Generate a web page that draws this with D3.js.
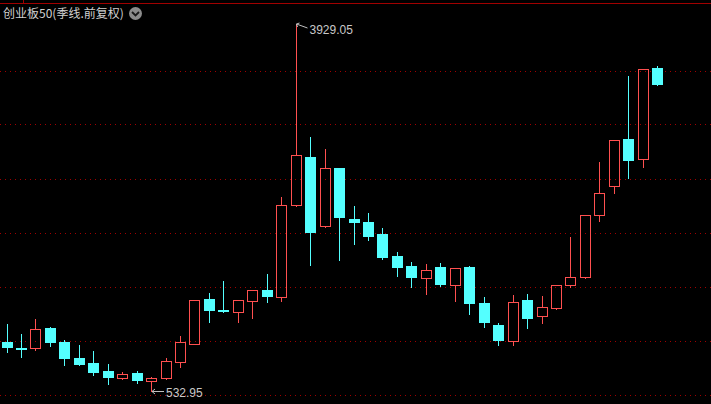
<!DOCTYPE html>
<html>
<head>
<meta charset="utf-8">
<script src="https://cdn.jsdelivr.net/npm/d3@7"></script>
<style>
  html, body { margin: 0; padding: 0; background: #000; }
  svg { display: block; }
</style>
</head>
<body>
<svg id="chart"></svg>
<script>
var width = 711,
    height = 404;

// quarterly candles, 2010Q2 .. 2021Q3
var quarters = ["2010Q2","2010Q3","2010Q4","2011Q1","2011Q2","2011Q3","2011Q4","2012Q1","2012Q2","2012Q3",
    "2012Q4","2013Q1","2013Q2","2013Q3","2013Q4","2014Q1","2014Q2","2014Q3","2014Q4","2015Q1",
    "2015Q2","2015Q3","2015Q4","2016Q1","2016Q2","2016Q3","2016Q4","2017Q1","2017Q2","2017Q3",
    "2017Q4","2018Q1","2018Q2","2018Q3","2018Q4","2019Q1","2019Q2","2019Q3","2019Q4","2020Q1",
    "2020Q2","2020Q3","2020Q4","2021Q1","2021Q2","2021Q3"];
var open  = [986, 930, 933, 1116, 986, 838, 792, 718, 653, 699,
    628, 656, 804, 970, 1384, 1282, 1267, 1368, 1468, 1406,
    2257, 2699, 2060, 2597, 2125, 2097, 1986, 1782, 1690, 1581,
    1681, 1517, 1681, 1347, 1144, 998, 1375, 1227, 1301, 1517,
    1591, 2165, 2428, 2866, 2678, 3523];
var high  = [1153, 1060, 1199, 1125, 1005, 958, 903, 782, 708, 718,
    662, 835, 1042, 1375, 1440, 1551, 1375, 1468, 1616, 2329,
    3929.05, 2884, 2773, 2600, 2245, 2180, 2042, 1819, 1727, 1708,
    1718, 1675, 1690, 1403, 1162, 1421, 1431, 1412, 1518, 1958,
    2165, 2653, 2860, 3449, 3518, 3542];
var low   = [894, 847, 912, 949, 773, 773, 681, 597, 644, 606,
    532.95, 644, 757, 965, 1174, 1267, 1174, 1211, 1356, 1368,
    2248, 1699, 2051, 1745, 1893, 1931, 1755, 1597, 1495, 1431,
    1505, 1366, 1245, 1125, 958, 958, 1116, 1162, 1292, 1498,
    1581, 2109, 2368, 2507, 2609, 3368];
var close = [940, 926, 1106, 986, 838, 782, 708, 662, 690, 634,
    650, 807, 983, 1372, 1285, 1278, 1372, 1465, 1412, 2255,
    2718, 2005, 2594, 2143, 2097, 1968, 1773, 1681, 1588, 1653,
    1523, 1671, 1347, 1171, 1005, 1356, 1208, 1310, 1514, 1588,
    2162, 2363, 2856, 2674, 3514, 3378];
var gridValues = [500, 1000, 1500, 2000, 2500, 3000, 3500];

var title = "创业板50(季线.前复权)";
var upColor = "#ff5050",
    downColor = "#54ffff";

var svg = d3.select("#chart")
    .attr("width", width)
    .attr("height", height);

svg.append("rect").attr("width", width).attr("height", height).attr("fill", "#000");

var x = d3.scaleBand()
    .domain(quarters)
    .range([-0.73, -0.73 + quarters.length * 14.46])
    .paddingInner(0.24)
    .paddingOuter(0.12);

var y = d3.scaleLinear()
    .domain([500, 3500])
    .range([394.5, 70.5]);

// top frame line
svg.append("line")
    .attr("x1", 0).attr("x2", width)
    .attr("y1", 3.5).attr("y2", 3.5)
    .attr("stroke", "#a00000");
svg.append("line")
    .attr("x1", 23.5).attr("x2", 23.5)
    .attr("y1", 0).attr("y2", 3)
    .attr("stroke", "#a00000");

// dotted grid
svg.selectAll("line.grid")
    .data(gridValues)
    .enter().append("line")
    .attr("class", "grid")
    .attr("x1", 0).attr("x2", width)
    .attr("y1", function(d) { return Math.round(y(d)) + 0.5; })
    .attr("y2", function(d) { return Math.round(y(d)) + 0.5; })
    .attr("stroke", "#a00000")
    .attr("stroke-dasharray", "1,4");

var candles = quarters.map(function(q, i) {
    return {q: q, o: open[i], h: high[i], l: low[i], c: close[i]};
});

var g = svg.selectAll("g.candle")
    .data(candles)
    .enter().append("g")
    .attr("class", "candle");

g.each(function(d) {
    var el = d3.select(this);
    var left = Math.round(x(d.q) + x.bandwidth() / 2) - 5;
    var cx = left + 5.5;
    var up = d.c > d.o;
    var top = Math.round(y(Math.max(d.o, d.c))),
        bot = Math.round(y(Math.min(d.o, d.c))),
        hi = Math.round(y(d.h)),
        lo = Math.round(y(d.l));
    if (up) {
        if (hi < top) el.append("line").attr("x1", cx).attr("x2", cx).attr("y1", hi).attr("y2", top).attr("stroke", upColor);
        if (lo > bot) el.append("line").attr("x1", cx).attr("x2", cx).attr("y1", bot + 1).attr("y2", lo + 1).attr("stroke", upColor);
        el.append("rect")
            .attr("x", left + 0.5).attr("y", top + 0.5)
            .attr("width", 10).attr("height", Math.max(1, bot - top))
            .attr("fill", "none").attr("stroke", upColor);
    } else {
        el.append("line").attr("x1", cx).attr("x2", cx).attr("y1", hi).attr("y2", lo + 1).attr("stroke", downColor);
        el.append("rect")
            .attr("x", left).attr("y", top)
            .attr("width", 11).attr("height", Math.max(2, bot - top + 1))
            .attr("fill", downColor);
    }
});

// title
svg.append("text")
    .attr("x", 3).attr("y", 18)
    .attr("fill", "#d0d0d0")
    .attr("font-family", "'Noto Sans CJK SC', sans-serif")
    .attr("font-size", 12)
    .text(title);
svg.append("circle")
    .attr("cx", 135.5).attr("cy", 13.5).attr("r", 6.5)
    .attr("fill", "#8c8c8c");
svg.append("path")
    .attr("d", "M132,12 L135.5,15.5 L139,12")
    .attr("fill", "none").attr("stroke", "#1a1a1a").attr("stroke-width", 1.8);

// high / low labels
var iHigh = d3.maxIndex(high), iLow = d3.minIndex(low);
var hx = Math.round(x(quarters[iHigh]) + x.bandwidth() / 2) + 0.5,
    hy = Math.round(y(high[iHigh]));
svg.append("path")
    .attr("d", "M" + hx + "," + hy + " L" + (hx + 11) + "," + (hy + 4) +
        " M" + hx + "," + hy + " L" + (hx + 3) + "," + (hy - 1) +
        " M" + hx + "," + hy + " L" + (hx + 1) + "," + (hy + 3))
    .attr("fill", "none").attr("stroke", "#c0c0c0");
svg.append("text")
    .attr("x", hx + 13).attr("y", hy + 10)
    .attr("fill", "#c8c8c8")
    .attr("font-family", "'Liberation Sans', sans-serif")
    .attr("font-size", 12)
    .text(d3.format(".2f")(high[iHigh]));

var lx = Math.round(x(quarters[iLow]) + x.bandwidth() / 2) + 1,
    ly = Math.round(y(low[iLow])) + 0.5;
svg.append("path")
    .attr("d", "M" + lx + "," + ly + " L" + (lx + 12) + "," + ly +
        " M" + lx + "," + ly + " L" + (lx + 3) + "," + (ly - 2.5) +
        " M" + lx + "," + ly + " L" + (lx + 3) + "," + (ly + 2.5))
    .attr("fill", "none").attr("stroke", "#c0c0c0");
svg.append("text")
    .attr("x", lx + 14).attr("y", ly + 5)
    .attr("fill", "#c8c8c8")
    .attr("font-family", "'Liberation Sans', sans-serif")
    .attr("font-size", 12)
    .text(d3.format(".2f")(low[iLow]));
</script>
</body>
</html>
